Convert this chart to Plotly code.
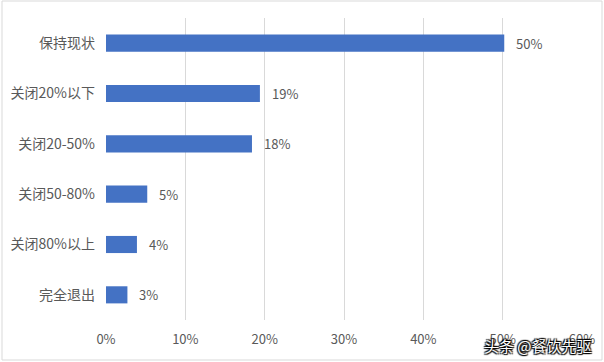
import plotly.graph_objects as go

categories = ["保持现状", "关闭20%以下", "关闭20-50%", "关闭50-80%", "关闭80%以上", "完全退出"]
values = [50.2, 19.4, 18.4, 5.2, 3.9, 2.7]
tick_vals = [0, 10, 20, 30, 40, 50, 60]
tick_text = ["0%", "10%", "20%", "30%", "40%", "50%", "60%"]
watermark = "头条 @餐饮先驱"

W, H = 604, 362
ml, mr, mt, mb = 106, 22, 18, 42
pw = W - ml - mr
ph = H - mt - mb

font_family = "Noto Sans CJK SC, Microsoft YaHei, sans-serif"
gray = "#595959"

fig = go.Figure()
fig.add_trace(go.Bar(
    x=values,
    y=categories,
    orientation="h",
    marker=dict(color="#4472C4", line=dict(width=0)),
    hoverinfo="skip",
))

annotations = []
for c, v in zip(categories, values):
    annotations.append(dict(
        x=v, y=c, xref="x", yref="y",
        text=f"{round(v)}%", showarrow=False,
        xanchor="left", yanchor="middle", xshift=10,
        font=dict(family=font_family, size=13, color=gray),
    ))

annotations.append(dict(
    x=(594 - ml) / pw, y=(H - mb - 345) / ph, xref="paper", yref="paper",
    text=watermark, showarrow=False, xanchor="right", yanchor="middle",
    font=dict(family=font_family, size=15, color="white",
              shadow="1px 1px 1px #000, -1px -1px 1px #000, 1px -1px 1px #000, -1px 1px 1px #000"),
))

fig.update_layout(
    width=W, height=H,
    margin=dict(l=ml, r=mr, t=mt, b=mb, autoexpand=False),
    paper_bgcolor="white",
    plot_bgcolor="white",
    bargap=0.66,
    showlegend=False,
    font=dict(family=font_family, size=13, color=gray),
    xaxis=dict(
        range=[0, 60],
        tickvals=tick_vals,
        ticktext=tick_text,
        showgrid=True,
        gridcolor="#d9d9d9",
        gridwidth=1,
        zeroline=False,
        showline=False,
        ticks="",
        ticklabelstandoff=10,
        tickfont=dict(family=font_family, size=13, color=gray),
        fixedrange=True,
    ),
    yaxis=dict(
        categoryorder="array",
        categoryarray=categories[::-1],
        showgrid=False,
        zeroline=False,
        showline=False,
        ticks="",
        ticklabelstandoff=10,
        tickfont=dict(family=font_family, size=14, color=gray),
        fixedrange=True,
    ),
    annotations=annotations,
    shapes=[dict(
        type="rect", xref="paper", yref="paper",
        x0=(2 - ml) / pw, x1=(602 - ml) / pw,
        y0=(H - mb - 360) / ph, y1=(H - mb - 1) / ph,
        line=dict(color="#d9d9d9", width=1), fillcolor="rgba(0,0,0,0)",
        layer="below",
    )],
)

fig.write_html(
    "out.html",
    config={"displayModeBar": False, "staticPlot": True},
    post_script="document.body.style.margin='0';document.body.style.overflow='hidden';",
)
